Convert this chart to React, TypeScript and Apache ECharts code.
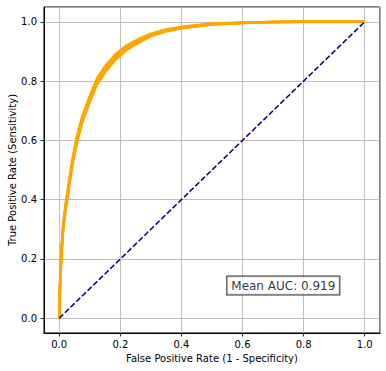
import React, { useEffect, useRef } from "react";
import * as echarts from "echarts";

const fpr = [0, 0.002, 0.006, 0.012, 0.02, 0.03, 0.042, 0.057, 0.075, 0.1, 0.124, 0.15, 0.184, 0.22, 0.26, 0.3, 0.35, 0.4, 0.5, 0.6, 0.7, 0.8, 0.9, 1.0];
const tprFold1 = [0, 0.1, 0.2, 0.3, 0.37, 0.44, 0.52, 0.6, 0.67, 0.74, 0.8, 0.84, 0.88, 0.91, 0.935, 0.955, 0.97, 0.98, 0.992, 0.997, 0.999, 1.0, 1.0, 1.0];
const tprFold2 = [0, 0.11, 0.21, 0.31, 0.38, 0.45, 0.53, 0.61, 0.68, 0.75, 0.81, 0.85, 0.89, 0.92, 0.942, 0.96, 0.974, 0.983, 0.994, 0.998, 0.999, 1.0, 1.0, 1.0];
const tprFold3 = [0, 0.09, 0.19, 0.29, 0.36, 0.43, 0.51, 0.59, 0.66, 0.73, 0.79, 0.83, 0.872, 0.905, 0.93, 0.952, 0.968, 0.978, 0.991, 0.996, 0.999, 1.0, 1.0, 1.0];
const tprFold4 = [0, 0.1, 0.2, 0.3, 0.375, 0.445, 0.525, 0.605, 0.675, 0.745, 0.805, 0.846, 0.885, 0.915, 0.938, 0.958, 0.972, 0.981, 0.993, 0.997, 0.999, 1.0, 1.0, 1.0];
const tprFold5 = [0, 0.095, 0.195, 0.295, 0.365, 0.435, 0.515, 0.595, 0.665, 0.735, 0.795, 0.835, 0.876, 0.908, 0.933, 0.953, 0.969, 0.979, 0.991, 0.996, 0.999, 1.0, 1.0, 1.0];
const folds = [tprFold1, tprFold2, tprFold3, tprFold4, tprFold5];

const chanceLine = [[0, 0], [1, 1]];
const aucText = "Mean AUC: 0.919";
const aucAnchor = [0.55, 0.1];

const xTitle = "False Positive Rate (1 - Specificity)";
const yTitle = "True Positive Rate (Sensitivity)";

const FONT = "DejaVu Sans";

export default function App() {
  const ref = useRef<HTMLDivElement>(null);
  useEffect(() => {
    if (!ref.current) return;
    const chart = echarts.init(ref.current, undefined, { renderer: "svg" });
    const axisCommon = {
      type: "value",
      min: -0.05,
      max: 1.05,
      splitNumber: 5,
      axisLine: { show: true, onZero: false, lineStyle: { color: "#000", width: 1 } },
      axisTick: { show: true, inside: false, length: 3.5, lineStyle: { color: "#000", width: 0.8 } },
      axisLabel: {
        color: "#000",
        fontFamily: FONT,
        fontSize: 10,
        showMinLabel: false,
        showMaxLabel: false,
        formatter: (v: number) => v.toFixed(1),
      },
      splitLine: { show: true, lineStyle: { color: "#b0b0b0", width: 0.8 } },
      nameLocation: "middle",
      nameMoveOverlap: false,
      nameTextStyle: { color: "#000", fontFamily: FONT, fontSize: 10 },
    };
    const series: any[] = folds.map((t, i) => ({
      type: "line",
      name: "fold" + (i + 1),
      data: fpr.map((x, j) => [x, t[j]]),
      showSymbol: false,
      smooth: false,
      lineStyle: { color: "#FFA500", width: 2.5 },
      z: 3,
    }));
    series.push({
      type: "line",
      data: chanceLine,
      showSymbol: false,
      lineStyle: { color: "#000080", width: 1.5, type: [5.5, 2.4] },
      z: 4,
    });
    series.push({
      type: "scatter",
      data: [aucAnchor],
      symbolSize: 0,
      z: 10,
      label: {
        show: true,
        formatter: aucText,
        position: "right",
        distance: 0,
        offset: [0, -3],
        color: "#000",
        fontFamily: FONT,
        fontSize: 12,
        backgroundColor: "#fff",
        borderColor: "#000",
        borderWidth: 1,
        padding: [3, 4, 3, 4],
      },
    });
    chart.setOption({
      animation: false,
      backgroundColor: "#fff",
      grid: {
        left: 44, right: 6, top: 7, bottom: 38,
        containLabel: false, outerBoundsMode: "none",
        show: true, borderColor: "#000", borderWidth: 1, backgroundColor: "#fff",
      },
      xAxis: { ...axisCommon, name: xTitle, nameGap: 20, axisLabel: { ...axisCommon.axisLabel, margin: 6 } },
      yAxis: { ...axisCommon, name: yTitle, nameGap: 27, axisLabel: { ...axisCommon.axisLabel, margin: 7 } },
      series,
    });
    return () => chart.dispose();
  }, []);
  return <div ref={ref} style={{ width: 386, height: 371, position: "absolute", left: 0, top: 0 }} />;
}
